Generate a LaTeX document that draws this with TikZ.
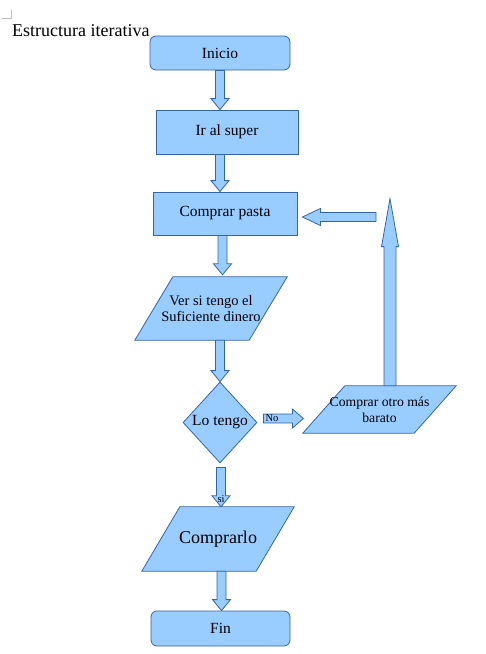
\documentclass[tikz,border=0pt]{standalone}
\usepackage{fontspec}
\setmainfont{Liberation Serif}
\usetikzlibrary{calc,shapes.geometric}
\definecolor{BoxFill}{RGB}{153,204,255}
\definecolor{BoxLine}{RGB}{52,101,164}
\definecolor{MarkGray}{RGB}{192,192,192}
\newcommand{\ArrowShaft}{4.5pt}
\newcommand{\ArrowWing}{9pt}
\newcommand{\ArrowHead}{11pt}
\newcommand{\BlockArrow}[2]{%
  \coordinate (ba) at ($(#2)!\ArrowHead!(#1)$);
  \draw[ArrowStyle] ($(#1)!\ArrowShaft!90:(#2)$) -- ($(ba)!\ArrowShaft!90:(#2)$)
    -- ($(ba)!\ArrowWing!90:(#2)$) -- (#2) -- ($(ba)!\ArrowWing!-90:(#2)$)
    -- ($(ba)!\ArrowShaft!-90:(#2)$) -- ($(#1)!\ArrowShaft!-90:(#2)$) -- cycle;}
% parallelogram round a text node: name, slant offset
\newcommand{\IoBox}[2]{%
  \draw[InOut] (#1.south west) -- ($(#1.north west)+(#2,0)$) -- (#1.north east)
    -- ($(#1.south east)+(-#2,0)$) -- cycle;}
\tikzstyle{Terminal}=[draw=BoxLine, fill=BoxFill, line width=0.8pt, rectangle, rounded corners=6pt,
  minimum width=140, minimum height=34, font=\fontsize{15.5}{18}\selectfont]
\tikzstyle{Process}=[draw=BoxLine, fill=BoxFill, line width=0.8pt, rectangle,
  font=\fontsize{15.5}{18}\selectfont]
\tikzstyle{InOut}=[draw=BoxLine, fill=BoxFill, line width=0.8pt, line join=miter]
\tikzstyle{IoText}=[align=center, inner sep=0pt, font=\fontsize{14.5}{16}\selectfont]
\tikzstyle{Decision}=[draw=BoxLine, fill=BoxFill, line width=0.8pt, diamond, inner sep=0pt,
  minimum width=74, minimum height=81, font=\fontsize{15.5}{18}\selectfont]
\tikzstyle{ArrowStyle}=[draw=BoxLine, fill=BoxFill, line width=0.8pt, line join=miter]
\tikzstyle{SmallLabel}=[inner sep=0pt, font=\fontsize{10.5}{12}\selectfont]
\begin{document}
\begin{tikzpicture}[x=1pt,y=-1pt]
  \useasboundingbox (0,0) rectangle (486,654);
  % title
  \draw[MarkGray, line width=0.6pt] (2,18.5) -- (11,18.5) -- (11,10);
  \node[anchor=base west, inner sep=0pt, font=\fontsize{18}{21}\selectfont] (title) at (12,36) {Estructura iterativa};
  % blocks
  \node[Terminal] (Inicio) at (220,53) {Inicio};
  \node[Process, minimum width=142, minimum height=44] (Super) at (227,132) {Ir al super};
  \node[Process, minimum width=144, minimum height=43] (Pasta) at (225,213.5) {Comprar pasta};
  \node[IoText, minimum width=152, minimum height=63] (Dinero) at (211,308.5) {};
  \node[Decision] (Tengo) at (220,422.5) {Lo tengo};
  \node[IoText, minimum width=153, minimum height=47] (Otro) at (379.5,409.5) {};
  \node[IoText, minimum width=152, minimum height=64] (Comprarlo) at (218,539) {};
  \node[Terminal, minimum width=139, minimum height=35] (Fin) at (220.5,628.5) {Fin};
  % parallelograms
  \IoBox{Dinero}{38}
  \IoBox{Otro}{42}
  \IoBox{Comprarlo}{38}
  \node[IoText] (DineroText) at (Dinero.center) {Ver si tengo el\\Suficiente dinero};
  \node[IoText, font=\fontsize{13.7}{15.7}\selectfont] (OtroText) at (Otro.center) {Comprar otro más\\barato};
  \node[IoText, font=\fontsize{18}{21}\selectfont] (ComprarloText) at (Comprarlo.center) {Comprarlo};
  % arrow ends
  \coordinate (a1s) at (Inicio.south);
  \coordinate (a1e) at (Inicio.south |- Super.north);
  \coordinate (a2s) at (Inicio.south |- Super.south);
  \coordinate (a2e) at (Inicio.south |- Pasta.north);
  \coordinate (a3s) at ($(Pasta.south)+(-2.5,0)$);
  \coordinate (a3e) at ($(a3s |- Dinero.north)+(0,-2)$);
  \coordinate (a4s) at (Tengo.north |- Dinero.south);
  \coordinate (a4e) at (Tengo.north);
  \coordinate (a5s) at ($(Tengo.east)+(6,-4)$);
  \coordinate (a5e) at ($(Tengo.east)+(46,-4)$);
  \coordinate (a6s) at ($(Otro.north)+(10.5,0)$);
  \coordinate (a6e) at ($(a6s |- Pasta.north)+(0,7)$);
  \coordinate (a7e) at ($(Pasta.east)+(5,3.5)$);
  \coordinate (a7s) at ($(a6s |- a7e)+(-14,0)$);
  \coordinate (a8s) at ($(Tengo.south)+(1,4)$);
  \coordinate (a8e) at (a8s |- Comprarlo.north);
  \coordinate (a9e) at ($(Fin.north)+(1,0)$);
  \coordinate (a9s) at (a9e |- Comprarlo.south);
  % straight arrows
  \BlockArrow{a1s}{a1e}
  \BlockArrow{a2s}{a2e}
  \BlockArrow{a3s}{a3e}
  \BlockArrow{a4s}{a4e}
  {\renewcommand{\ArrowWing}{9.5pt}
    \BlockArrow{a5s}{a5e}}
  \BlockArrow{a8s}{a8e}
  \BlockArrow{a9s}{a9e}
  % loop back
  {\renewcommand{\ArrowShaft}{6pt}\renewcommand{\ArrowWing}{8.5pt}\renewcommand{\ArrowHead}{48pt}
    \BlockArrow{a6s}{a6e}}
  {\renewcommand{\ArrowWing}{8.5pt}\renewcommand{\ArrowHead}{18pt}
    \BlockArrow{a7s}{a7e}}
  % labels
  \node[SmallLabel, anchor=west] (no) at ($(a5s)+(2,0)$) {No};
  \node[SmallLabel] (si) at ($(a8e)+(0,-8)$) {si};
\end{tikzpicture}
\end{document}
